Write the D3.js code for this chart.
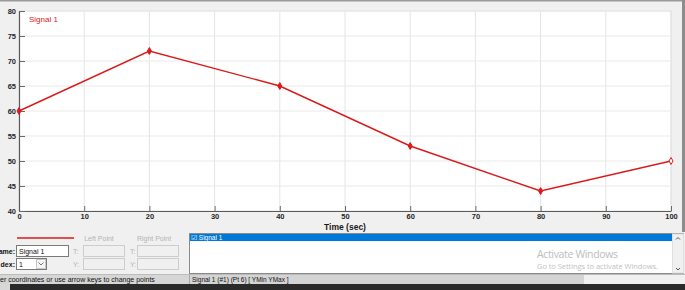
<!DOCTYPE html>
<html>
<head>
<meta charset="utf-8">
<script src="https://cdn.jsdelivr.net/npm/d3@7"></script>
<style>
  html, body { margin: 0; padding: 0; background: #f0f0f0; }
  svg { display: block; font-family: "Liberation Sans", Arial, sans-serif; }
</style>
</head>
<body>
<div id="chart"></div>
<script>
// signal points
const times = [0, 20, 40, 60, 80, 100];
const values = [60, 72, 65, 53, 44, 50];
const xTicks = [0, 10, 20, 30, 40, 50, 60, 70, 80, 90, 100];
const yTicks = [40, 45, 50, 55, 60, 65, 70, 75, 80];
const signalName = 'Signal 1';

const width = 685, height = 290;
const red = '#da1a1a';

const svg = d3.select('#chart').append('svg')
    .attr('width', width)
    .attr('height', height);

svg.append('rect').attr('width', width).attr('height', height).attr('fill', '#f0f0f0');

const x = d3.scaleLinear().domain([0, 100]).range([19, 671]);
const y = d3.scaleLinear().domain([40, 80]).range([211, 11]);

// window frame lines
svg.append('rect').attr('x', 0).attr('y', 0).attr('width', width).attr('height', 1.5).attr('fill', '#9a9a9a');
svg.append('rect').attr('x', 682).attr('y', 0).attr('width', 3).attr('height', 232).attr('fill', '#8c8c8c');

// plot background
svg.append('rect')
    .attr('x', x(0)).attr('y', y(80))
    .attr('width', x(100) - x(0)).attr('height', y(40) - y(80))
    .attr('fill', '#fff')
    .attr('stroke', '#e2e2e2');

// grid
const grid = svg.append('g');
grid.selectAll('.vg').data(xTicks.slice(1)).join('line')
    .attr('x1', d => x(d)).attr('x2', d => x(d))
    .attr('y1', y(80)).attr('y2', y(40))
    .attr('stroke', '#e4e4e4');
grid.selectAll('.hg').data(yTicks.slice(1)).join('line')
    .attr('x1', x(0)).attr('x2', x(100))
    .attr('y1', d => y(d)).attr('y2', d => y(d))
    .attr('stroke', '#e9e9e9');

// axes
const xAxis = d3.axisBottom(x).tickValues(xTicks).tickSizeInner(-5).tickSizeOuter(0).tickPadding(5);
const yAxis = d3.axisLeft(y).tickValues(yTicks).tickSizeInner(-6).tickSizeOuter(0).tickPadding(3);

const gx = svg.append('g').attr('transform', `translate(0,${y(40)})`).call(xAxis);
const gy = svg.append('g').attr('transform', `translate(${x(0)},0)`).call(yAxis);
[gx, gy].forEach(g => {
    g.select('.domain').attr('stroke', '#5a5a5a').attr('stroke-width', 1.2);
    g.selectAll('.tick line').attr('stroke', '#6a6a6a');
    g.selectAll('.tick text')
        .attr('fill', '#262626')
        .attr('font-size', 7.5)
        .attr('font-weight', 'bold')
        .attr('font-family', '"Liberation Sans", Arial, sans-serif');
});
gx.selectAll('.tick text').attr('dy', '0.45em');

svg.append('text')
    .attr('x', 345).attr('y', 229.5)
    .attr('text-anchor', 'middle')
    .attr('font-size', 8.5).attr('font-weight', 'bold')
    .attr('fill', '#1a1a1a')
    .text('Time (sec)');

// signal
const pts = times.map((t, i) => ({ t, v: values[i] }));
svg.append('path')
    .datum(pts)
    .attr('fill', 'none')
    .attr('stroke', red)
    .attr('stroke-width', 1.4)
    .attr('d', d3.line().x(d => x(d.t)).y(d => y(d.v)));

const diamond = d3.symbol().type(d3.symbolDiamond).size(14);
svg.selectAll('.pt').data(pts).join('path')
    .attr('transform', d => `translate(${x(d.t)},${y(d.v)})`)
    .attr('d', diamond)
    .attr('fill', (d, i) => i === pts.length - 1 ? '#fff' : red)
    .attr('stroke', red)
    .attr('stroke-width', 1);

svg.append('text')
    .attr('x', 29).attr('y', 22)
    .attr('font-size', 8)
    .attr('fill', red)
    .text(signalName);

// ---- lower panel ----
const panel = svg.append('g').attr('font-size', 7);

panel.append('line')
    .attr('x1', 17).attr('x2', 74).attr('y1', 238).attr('y2', 238)
    .attr('stroke', red).attr('stroke-width', 1.5);

panel.append('text').attr('x', 99).attr('y', 241).attr('text-anchor', 'middle')
    .attr('fill', '#b4b4b4').text('Left Point');
panel.append('text').attr('x', 154).attr('y', 241).attr('text-anchor', 'middle')
    .attr('fill', '#b4b4b4').text('Right Point');

// name field
panel.append('text').attr('x', 15).attr('y', 254).attr('text-anchor', 'end')
    .attr('font-weight', 'bold').attr('fill', '#111').text('ame:');
panel.append('rect').attr('x', 16.5).attr('y', 245.5).attr('width', 52).attr('height', 11)
    .attr('fill', '#fff').attr('stroke', '#7a7a7a');
panel.append('text').attr('x', 19).attr('y', 254).attr('fill', '#111').text(signalName);

// index field
panel.append('text').attr('x', 15).attr('y', 267).attr('text-anchor', 'end')
    .attr('font-weight', 'bold').attr('fill', '#111').text('dex:');
panel.append('rect').attr('x', 16.5).attr('y', 258.5).attr('width', 30).attr('height', 11)
    .attr('fill', '#fff').attr('stroke', '#7a7a7a');
panel.append('rect').attr('x', 36.5).attr('y', 259.5).attr('width', 9).attr('height', 9)
    .attr('fill', '#f4f4f4').attr('stroke', '#c8c8c8');
panel.append('path').attr('d', 'M38.5,262.5 L41,265 L43.5,262.5')
    .attr('fill', 'none').attr('stroke', '#777');
panel.append('text').attr('x', 19).attr('y', 267).attr('fill', '#111').text('1');

// disabled T / Y fields
[[73, 83], [130, 137]].forEach(([lx, bx]) => {
    panel.append('text').attr('x', lx).attr('y', 254).attr('fill', '#b4b4b4').text('T:');
    panel.append('text').attr('x', lx).attr('y', 267).attr('fill', '#b4b4b4').text('Y:');
    panel.append('rect').attr('x', bx + 0.5).attr('y', 245.5).attr('width', 41).attr('height', 11)
        .attr('fill', '#f0f0f0').attr('stroke', '#cdcdcd');
    panel.append('rect').attr('x', bx + 0.5).attr('y', 258.5).attr('width', 41).attr('height', 11)
        .attr('fill', '#f0f0f0').attr('stroke', '#cdcdcd');
});

// signal list box
panel.append('rect').attr('x', 189.5).attr('y', 233.5).attr('width', 494).attr('height', 40)
    .attr('fill', '#fff').attr('stroke', '#8a8a8a');
panel.append('rect').attr('x', 190).attr('y', 234).attr('width', 482).attr('height', 7)
    .attr('fill', '#0078d7');
panel.append('text').attr('x', 191).attr('y', 240).attr('font-size', 6.5)
    .attr('fill', '#fff').text('\u2611 ' + signalName);
panel.append('rect').attr('x', 672.5).attr('y', 234).attr('width', 11).attr('height', 39)
    .attr('fill', '#f0f0f0').attr('stroke', '#e0e0e0');
panel.append('path').attr('d', 'M676,239.5 L678,237.5 L680,239.5')
    .attr('fill', 'none').attr('stroke', '#555');
panel.append('path').attr('d', 'M676,268 L678,270 L680,268')
    .attr('fill', 'none').attr('stroke', '#555');

// watermark
svg.append('text').attr('x', 537).attr('y', 258)
    .attr('font-family', '"Open Sans", sans-serif').attr('font-size', 10.5)
    .attr('fill', '#bdbdbd').attr('textLength', 81).text('Activate Windows');
svg.append('text').attr('x', 537).attr('y', 269)
    .attr('font-family', '"Open Sans", sans-serif').attr('font-size', 7.5)
    .attr('fill', '#c2c2c2').attr('textLength', 121).text('Go to Settings to activate Windows.');

// status bar
svg.append('rect').attr('x', 0).attr('y', 274).attr('width', 189).attr('height', 10).attr('fill', '#d6d6d6');
svg.append('rect').attr('x', 190).attr('y', 274).attr('width', 394).attr('height', 10).attr('fill', '#d4d4d4');
svg.append('rect').attr('x', 584).attr('y', 274).attr('width', 101).attr('height', 10).attr('fill', '#f0f0f0');
svg.append('line').attr('x1', 189.5).attr('x2', 189.5).attr('y1', 274).attr('y2', 284).attr('stroke', '#a8a8a8');
svg.append('line').attr('x1', 0).attr('x2', width).attr('y1', 274.5).attr('y2', 274.5).attr('stroke', '#bcbcbc');
svg.append('text').attr('x', 0).attr('y', 281.5).attr('font-size', 7).attr('fill', '#111')
    .text('er coordinates or use arrow keys to change points');
svg.append('text').attr('x', 192).attr('y', 281.5).attr('font-size', 6.5).attr('fill', '#111')
    .text('Signal 1 (#1) (Pt 6) [ YMin YMax ]');

svg.append('rect').attr('x', 0).attr('y', 284).attr('width', width).attr('height', 6).attr('fill', '#2a2a2a');
svg.append('rect').attr('x', 0).attr('y', 284).attr('width', 10).attr('height', 6).attr('fill', '#d8d8d8');
</script>
</body>
</html>
